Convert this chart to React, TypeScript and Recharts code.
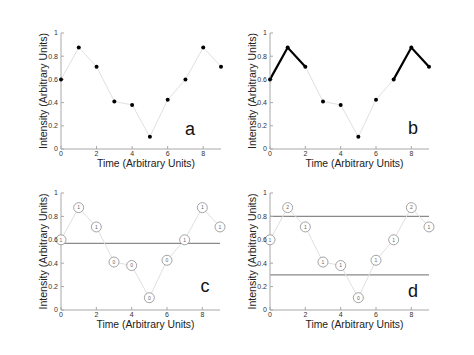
import React from "react";
import { LineChart, Line, XAxis, YAxis, ReferenceLine } from "recharts";

const times = [0, 1, 2, 3, 4, 5, 6, 7, 8, 9];
const intensity = [0.6, 0.875, 0.71, 0.41, 0.38, 0.105, 0.425, 0.6, 0.875, 0.71];
const boldSteps = [0, 1, 2, 7, 8, 9];
const labelsC = [1, 1, 1, 0, 0, 0, 0, 1, 1, 1];
const labelsD = [1, 2, 1, 1, 1, 0, 1, 1, 2, 1];
const thresholdsC = [0.57];
const thresholdsD = [0.8, 0.3];
const xTicks = [0, 2, 4, 6, 8];
const yTicks = [0, 0.2, 0.4, 0.6, 0.8, 1];

const rows = times.map((t, i) => ({
  t,
  v: intensity[i],
  bold: boldSteps.includes(t) ? intensity[i] : null,
  lc: labelsC[i],
  ld: labelsD[i],
}));

const FONT = "'Liberation Sans', Arial, sans-serif";
const BOX = "#a8a8a8";
const tickStyle = { fontSize: 7, fill: "#333", fontFamily: FONT };

function circleDot(key: "lc" | "ld") {
  return (p: any) => (
    <g key={`d${p.index}`}>
      <circle cx={p.cx} cy={p.cy} r={5} fill="#fff" stroke="#999" strokeWidth={0.9} />
      <text x={p.cx} y={p.cy + 1.8} textAnchor="middle" fontSize={5} fill="#666" fontFamily={FONT}>
        {p.payload[key]}
      </text>
    </g>
  );
}

// axis titles squeezed to the reference's narrower face
const xTitle = (props: any) => {
  const vb = props.viewBox;
  return (
    <text
      x={vb.x + vb.width / 2 + 5}
      y={vb.y + 18}
      textAnchor="middle"
      fontSize={11}
      fill="#222"
      fontFamily={FONT}
      textLength={98}
      lengthAdjust="spacingAndGlyphs"
    >
      Time (Arbitrary Units)
    </text>
  );
};

const yTitle = (props: any) => {
  const vb = props.viewBox;
  const cx = vb.x + vb.width - 14;
  const cy = vb.y + vb.height / 2;
  return (
    <text
      x={cx}
      y={cy}
      transform={`rotate(-90 ${cx} ${cy})`}
      textAnchor="middle"
      fontSize={11}
      fill="#222"
      fontFamily={FONT}
      textLength={116}
      lengthAdjust="spacingAndGlyphs"
    >
      Intensity (Arbitrary Units)
    </text>
  );
};

type PanelProps = {
  left: number;
  top: number;
  yAxisW: number;
  right: number;
  letter: string;
  letterX: number;
  letterY: number;
  kind: "a" | "b" | "c" | "d";
};

function Panel({ left, top, yAxisW, right, letter, letterX, letterY, kind }: PanelProps) {
  const lines = kind === "c" ? thresholdsC : kind === "d" ? thresholdsD : [];
  const marginTop = kind === "a" || kind === "b" ? 33 : 16;
  const plotH = kind === "a" || kind === "b" ? 116 : 117;
  const h = marginTop + plotH + 28;
  return (
    <div style={{ position: "absolute", left, top, width: 237, height: h }}>
      <LineChart
        width={237}
        height={h}
        data={rows}
        margin={{ top: marginTop, right, bottom: 0, left: 0 }}
      >
        <XAxis
          xAxisId="b"
          dataKey="t"
          type="number"
          domain={[0, 9]}
          ticks={xTicks}
          height={28}
          stroke={BOX}
          tickSize={-3}
          tickMargin={5}
          tick={tickStyle}
          label={xTitle}
        />
        <XAxis
          xAxisId="t"
          orientation="top"
          dataKey="t"
          type="number"
          domain={[0, 9]}
          ticks={xTicks}
          height={0}
          stroke={BOX}
          tickSize={-3}
          tick={false}
        />
        <YAxis
          yAxisId="l"
          type="number"
          domain={[0, 1]}
          ticks={yTicks}
          width={yAxisW}
          stroke={BOX}
          tickSize={-3}
          tickMargin={6}
          tick={tickStyle}
          label={yTitle}
        />
        <YAxis
          yAxisId="r"
          orientation="right"
          type="number"
          domain={[0, 1]}
          ticks={yTicks}
          width={0}
          stroke={BOX}
          tickSize={-3}
          tick={false}
        />
        {lines.map((y) => (
          <ReferenceLine key={y} xAxisId="b" yAxisId="l" y={y} stroke="#8a8a8a" strokeWidth={1.2} />
        ))}
        <Line
          xAxisId="b"
          yAxisId="l"
          dataKey="v"
          stroke="#e0e0e0"
          strokeWidth={1}
          dot={
            kind === "a" || kind === "b"
              ? { r: 2, fill: "#000", stroke: "none" }
              : circleDot(kind === "c" ? "lc" : "ld")
          }
          isAnimationActive={false}
        />
        {kind === "b" && (
          <Line
            xAxisId="b"
            yAxisId="l"
            dataKey="bold"
            stroke="#000"
            strokeWidth={2.2}
            dot={false}
            connectNulls={false}
            isAnimationActive={false}
          />
        )}
      </LineChart>
      <span
        style={{
          position: "absolute",
          left: letterX - left,
          top: letterY - top,
          transform: "translate(-50%, -50%)",
          fontFamily: FONT,
          fontSize: 18,
          color: "#111",
          lineHeight: 1,
        }}
      >
        {letter}
      </span>
    </div>
  );
}

export default function App() {
  return (
    <div style={{ position: "absolute", left: 0, top: 0, width: 474, height: 355, background: "#fff" }}>
      <Panel kind="a" left={0} top={0} yAxisW={61} right={16} letter="a" letterX={190} letterY={129} />
      <Panel kind="b" left={237} top={0} yAxisW={33} right={45} letter="b" letterX={413} letterY={128} />
      <Panel kind="c" left={0} top={177} yAxisW={61} right={17} letter="c" letterX={205} letterY={286} />
      <Panel kind="d" left={237} top={177} yAxisW={33} right={45} letter="d" letterX={413} letterY={291} />
    </div>
  );
}
